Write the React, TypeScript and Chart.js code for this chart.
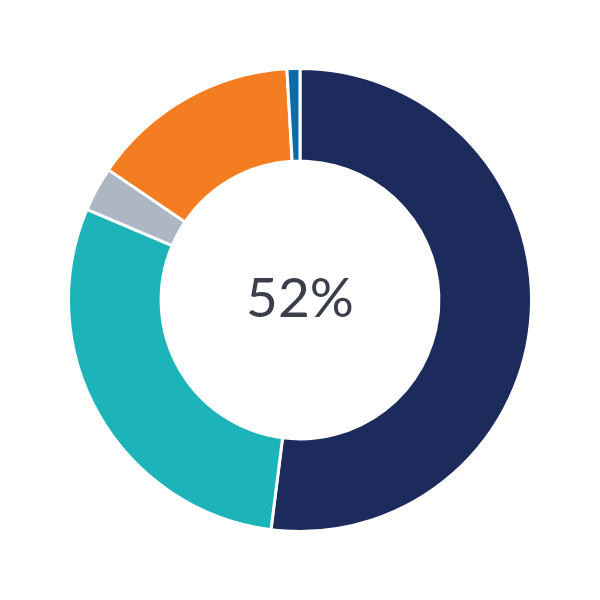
import React, { useEffect, useRef } from "react";
import { Chart, registerables } from "chart.js";

Chart.register(...registerables);

const labels = ["A", "B", "C", "D", "E"];
const values = [52, 29.4, 3.1, 14.6, 0.9];
const colors = ["#1c2b5b", "#1cb4b8", "#adb6c3", "#f37d20", "#0d6ca8"];
const centerLabel = "52%";

export default function App() {
  const ref = useRef<HTMLCanvasElement | null>(null);
  useEffect(() => {
    if (!ref.current) return;
    const centerText = {
      id: "centerText",
      afterDraw(chart: any) {
        const { ctx, chartArea } = chart;
        const x = (chartArea.left + chartArea.right) / 2;
        const y = (chartArea.top + chartArea.bottom) / 2;
        ctx.save();
        ctx.font = "400 55px Lato";
        ctx.fillStyle = "#3a3f4b";
        ctx.textAlign = "center";
        ctx.textBaseline = "middle";
        ctx.fillText(centerLabel, x, y - 1);
        ctx.restore();
      },
    };
    const chart = new Chart(ref.current, {
      type: "doughnut",
      data: {
        labels,
        datasets: [
          {
            data: values,
            backgroundColor: colors,
            borderColor: "#ffffff",
            borderWidth: 3,
          },
        ],
      },
      options: {
        responsive: false,
        animation: false,
        cutout: "60%",
        layout: { padding: 67 },
        plugins: { legend: { display: false }, tooltip: { enabled: false } },
      },
      plugins: [centerText],
    });
    return () => chart.destroy();
  }, []);
  return (
    <div style={{ position: "absolute", left: 0, top: 0, width: 600, height: 600, background: "#fff" }}>
      <canvas ref={ref} width={600} height={600} />
    </div>
  );
}
